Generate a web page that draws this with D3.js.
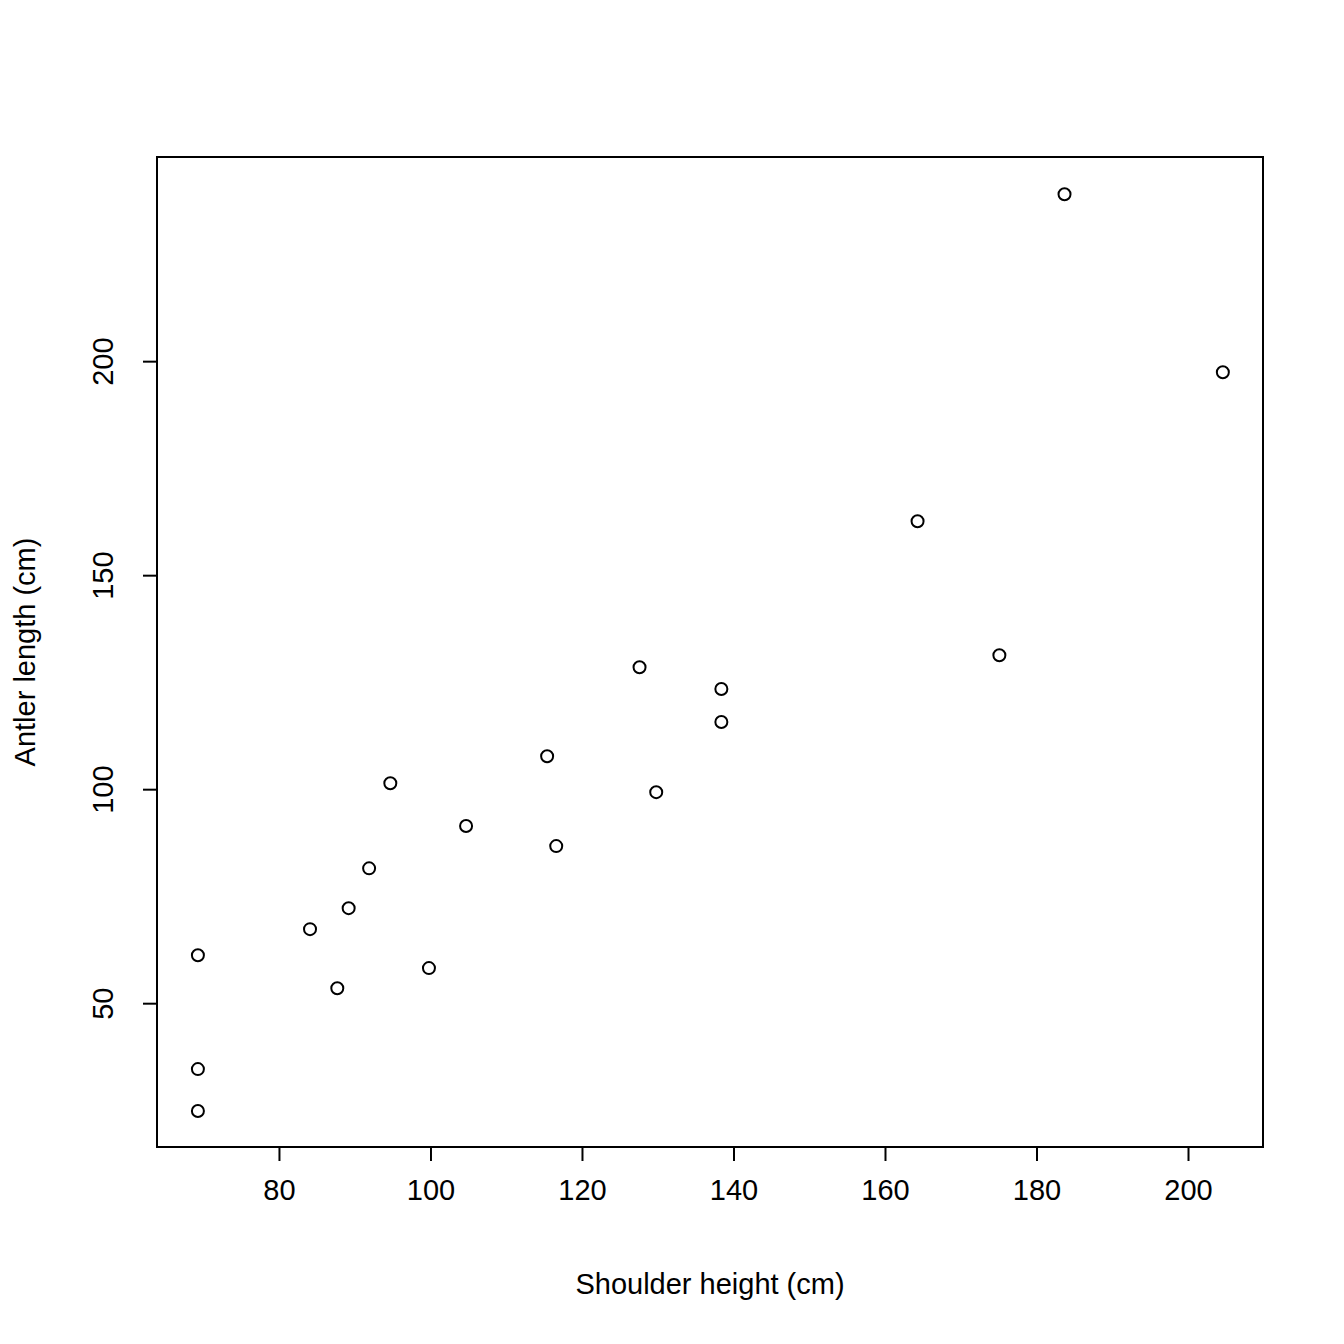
<!DOCTYPE html>
<html><head><meta charset="utf-8">
<script src="https://cdn.jsdelivr.net/npm/d3@7"></script>
<style>body{margin:0;background:#fff}</style>
</head><body><svg width="1344" height="1344"></svg>
<script>
// Data
var shoulder = [69.3, 69.3, 69.3, 84.1, 87.7, 89.2, 91.9, 94.7, 99.8, 104.7, 115.4, 116.6, 127.6, 129.8, 138.4, 138.4, 164.3, 175.1, 183.7, 204.6];
var antler   = [24.8, 34.6, 61.2, 67.3, 53.5, 72.2, 81.5, 101.4, 58.2, 91.4, 107.7, 86.7, 128.5, 99.3, 123.4, 115.7, 162.6, 131.3, 239.0, 197.4];
var xTicks = [80, 100, 120, 140, 160, 180, 200];
var yTicks = [50, 100, 150, 200];

var box = { left: 157, right: 1263, top: 157, bottom: 1147 };
var font = "'Liberation Sans', Arial, sans-serif";

var x = d3.scaleLinear().domain([63.9, 209.9]).range([box.left, box.right]);
var y = d3.scaleLinear().domain([16.4, 247.7]).range([box.bottom, box.top]);

var svg = d3.select("svg");

// plot frame
svg.append("rect")
    .attr("x", box.left).attr("y", box.top)
    .attr("width", box.right - box.left).attr("height", box.bottom - box.top)
    .attr("fill", "none").attr("stroke", "black").attr("stroke-width", 2);

// axes (R style: axis line spans first to last tick)
var gx = svg.append("g")
    .attr("transform", "translate(0," + box.bottom + ")")
    .call(d3.axisBottom(x).tickValues(xTicks).tickSize(14).tickPadding(30).tickFormat(d3.format("d")));
gx.select(".domain").remove();
gx.append("line").attr("x1", x(80)).attr("x2", x(200)).attr("stroke", "black").attr("stroke-width", 2);

var gy = svg.append("g")
    .attr("transform", "translate(" + box.left + ",0)")
    .call(d3.axisLeft(y).tickValues(yTicks).tickSize(14).tickFormat(d3.format("d")));
gy.select(".domain").remove();
gy.append("line").attr("y1", y(50)).attr("y2", y(200)).attr("stroke", "black").attr("stroke-width", 2);

svg.selectAll(".tick line").attr("stroke-width", 2);
svg.selectAll(".tick text").attr("font-family", font).attr("font-size", 29).attr("fill", "black");
gx.selectAll(".tick text").attr("dy", "0.3em");
gy.selectAll(".tick text")
    .attr("x", null).attr("dy", null)
    .attr("text-anchor", "middle")
    .attr("transform", function(d) { return "translate(-44,0) rotate(-90)"; })
    .attr("y", 0);

// axis titles
svg.append("text")
    .attr("x", (box.left + box.right) / 2).attr("y", 1294)
    .attr("text-anchor", "middle").attr("font-family", font).attr("font-size", 29)
    .text("Shoulder height (cm)");
svg.append("text")
    .attr("transform", "translate(35," + ((box.top + box.bottom) / 2) + ") rotate(-90)")
    .attr("text-anchor", "middle").attr("font-family", font).attr("font-size", 29)
    .text("Antler length (cm)");

// points
svg.selectAll(".dot")
    .data(d3.zip(shoulder, antler))
  .enter().append("circle")
    .attr("class", "dot")
    .attr("cx", function(d) { return x(d[0]); })
    .attr("cy", function(d) { return y(d[1]); })
    .attr("r", 6)
    .attr("fill", "none").attr("stroke", "black").attr("stroke-width", 2);
</script>
</body></html>
